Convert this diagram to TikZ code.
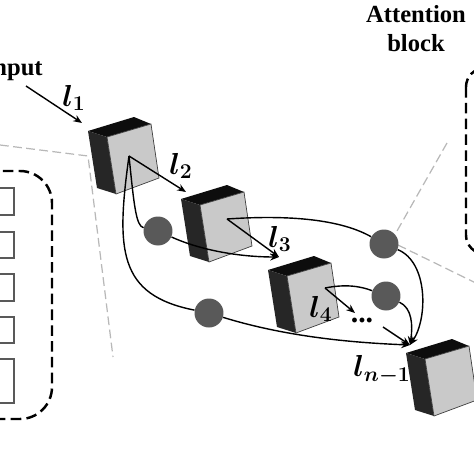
\documentclass[tikz,border=0pt]{standalone}
\usepackage{fontspec}
\setmainfont{Liberation Serif}
\usepackage{amsmath}
\usepackage{bm}
\usepackage{tikz}
\usetikzlibrary{arrows.meta}

% one layer drawn as a tilted box, (#1,#2) = top left corner of its front face
\newcommand{\layercube}[2]{%
  \begin{scope}[shift={(#1,#2)}]
    \fill[black!95] (-19,-6) -- (27,-20) -- (44,-13) -- (0,0) -- cycle;
    \fill[black!85] (-19,-6) -- (0,0) -- (9,57) -- (-10,51) -- cycle;
    \filldraw[fill=black!21, draw=black!75, line width=0.4pt] (0,0) -- (44,-13) -- (52,41) -- (9,57) -- cycle;
  \end{scope}}

\begin{document}
\begin{tikzpicture}[x=0.02cm, y=-0.02cm,
    conn/.style={line width=0.8pt},
    arr/.style={line width=0.8pt, -{Stealth[length=5pt,width=4pt]}},
    attn/.style={circle, fill=black!65, minimum size=0.58cm, inner sep=0pt},
    guide/.style={black!28, line width=0.7pt, dash pattern=on 5pt off 2.5pt},
    group/.style={line width=1.4pt, dash pattern=on 6pt off 3pt},
    lbl/.style={font=\fontsize{17}{19}\selectfont},
    title/.style={font=\fontsize{14}{16.5}\selectfont\bfseries, align=center, inner sep=0pt}]

  \useasboundingbox (0,0) rectangle (474,474);
  \clip (0,0) rectangle (474,474);

  % dashed groups
  \draw[group, rounded corners=0.64cm] (-40,171) rectangle (52,419);
  \draw[group, rounded corners=0.38cm] (466,68) rectangle (530,254);

  \foreach \ya/\yb in {188/215, 232/258, 274/301, 317/343, 359/403}
    \draw[black!65, line width=0.7pt] (-15,\ya) rectangle (14,\yb);

  % zoom guides
  \draw[guide] (0,145) -- (88,156) -- (113,357);
  \draw[guide] (447,143) -- (397,231);
  \draw[guide] (398,245) -- (480,285);

  % layers
  \layercube{107}{137}
  \layercube{200}{205}
  \layercube{287}{276}
  \layercube{425}{359}

  \coordinate (o1) at (129,156);
  \coordinate (o2) at (227,219);
  \coordinate (o3) at (325,288);
  \coordinate (hub) at (410,345);
  \coordinate (in) at (26,86);
  \coordinate (t1) at (82,123);
  \coordinate (t2) at (186,192);
  \coordinate (t3) at (279,257);
  \coordinate (t4) at (355,313);
  \coordinate (dt) at (383,327);

  \node[attn] (a1) at (158,231) {};
  \node[attn] (a2) at (209,313) {};
  \node[attn] (a3) at (384,244) {};
  \node[attn] (a4) at (386,296) {};

  \draw[arr] (in) -- (t1);
  \draw[arr] (o1) -- (t2);
  \draw[conn] (o1) .. controls (134,205) and (136,226) .. (a1);
  \draw[arr] (a1) .. controls (205,252) and (245,257) .. (t3);
  \draw[conn] (o1) .. controls (116,250) and (118,295) .. (a2);
  \draw[arr] (a2) .. controls (290,338) and (360,343) .. (hub);
  \draw[arr] (o2) -- (t3);
  \draw[conn] (o2) .. controls (300,214) and (345,222) .. (a3);
  \draw[arr] (a3) .. controls (428,262) and (428,318) .. (hub);
  \draw[arr] (o3) -- (t4);
  \draw[conn] (o3) .. controls (345,284) and (360,286) .. (a4);
  \draw[arr] (a4) .. controls (412,308) and (413,325) .. (hub);
  \draw[arr] (dt) -- (hub);

  % labels
  \node[lbl] (lab1) at (74,98) {$\bm{l_1}$};
  \node[lbl] (lab2) at (181,166) {$\bm{l_2}$};
  \node[lbl] (lab3) at (280,239) {$\bm{l_3}$};
  \node[lbl] (lab4) at (321,309) {$\bm{l_4}$};
  \node[lbl] (lab5) at (382,370) {$\bm{l_{n-1}}$};
  \node[font=\fontsize{17}{19}\selectfont\bfseries] (dots) at (362,320) {...};
  \node[title, anchor=north] (attntitle) at (416,5) {Attention\\block};
  \node[title, anchor=base east] (input) at (43,75) {Input};
\end{tikzpicture}
\end{document}
